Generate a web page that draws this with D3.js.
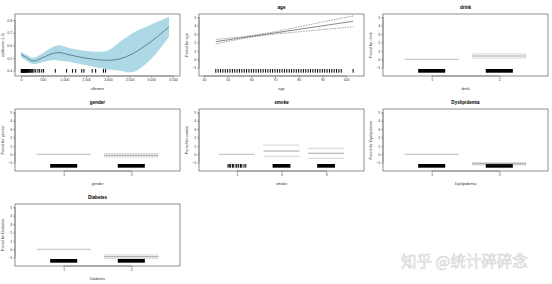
<!DOCTYPE html>
<html>
<head>
<meta charset="utf-8">
<script src="https://cdn.jsdelivr.net/npm/d3@7"></script>
<style>
  body { margin: 0; background: #fff; }
  svg { display: block; font-family: "Liberation Sans", Arial, sans-serif; }
</style>
</head>
<body>
<div id="chart"></div>
<script>
// smooth term (first panel)
const smoothX     = [0, 131, 283, 514, 744, 899, 1129, 1514, 1982, 2281, 2588, 2975, 3410];
const smoothFit   = [0.529, 0.502, 0.476, 0.505, 0.537, 0.542, 0.524, 0.498, 0.482, 0.494, 0.537, 0.624, 0.746];
const smoothUpper = [0.550, 0.524, 0.502, 0.542, 0.589, 0.600, 0.576, 0.555, 0.557, 0.628, 0.699, 0.760, 0.825];
const smoothLower = [0.510, 0.479, 0.453, 0.469, 0.484, 0.479, 0.469, 0.443, 0.411, 0.400, 0.390, 0.484, 0.668];
const smoothRug = [5, 12, 20, 28, 35, 42, 50, 58, 65, 72, 80, 90, 100, 110, 120, 130, 140, 150, 165, 180, 200,
  215, 230, 250, 270, 300, 340, 390, 430, 480, 520, 790, 1050, 1190, 1260, 1400, 1450, 1640, 1720, 1900, 1950];
const smoothXTicks = [0, 500, 1000, 1500, 2000, 2500, 3000, 3500];
const smoothYTicks = [0.4, 0.5, 0.6, 0.7, 0.8];

// age term
const ageX     = [45, 55, 62, 70, 80, 90, 103];
const ageFit   = [2.10, 2.52, 2.81, 3.14, 3.56, 3.98, 4.52];
const ageUpper = [2.36, 2.65, 2.89, 3.28, 3.85, 4.43, 5.17];
const ageLower = [1.84, 2.39, 2.73, 3.00, 3.27, 3.53, 3.87];
const ageRug = [45, 46, 47, 48, 49, 50, 51, 52, 53, 54, 55, 56, 57, 58, 59, 60, 61, 62, 63, 64, 65, 66, 67, 68,
  69, 70, 71, 72, 73, 74, 75, 76, 77, 78, 79, 80, 81, 82, 83, 84, 85, 86, 87, 88, 89, 90, 91, 92, 93, 94, 95,
  96, 97, 98, 103];
const ageXTicks = [40, 50, 60, 70, 80, 90, 100];

// shared partial axis for parametric terms
const partialYTicks = [-1, 0, 1, 2, 3, 4, 5];

// factor terms
const drinkLevels = ['1', '2'];
const drinkFit    = [0, 0.39];
const drinkUpper  = [null, 0.63];
const drinkLower  = [null, 0.15];

const genderLevels = ['1', '2'];
const genderFit    = [0, -0.12];
const genderUpper  = [null, 0.07];
const genderLower  = [null, -0.32];

const smokeLevels = ['1', '2', '3'];
const smokeFit    = [0, 0.39, 0.12];
const smokeUpper  = [null, 1.10, 0.71];
const smokeLower  = [null, -0.24, -0.48];
const smokeRug1   = [0.80, 0.83, 0.86, 0.90, 0.93, 0.98, 1.00, 1.04, 1.08, 1.11, 1.16, 1.20];

const dysLevels = ['1', '2'];
const dysFit    = [0, -1.13];
const dysUpper  = [null, -1.00];
const dysLower  = [null, -1.27];

const diabLevels = ['1', '2'];
const diabFit    = [0, -0.88];
const diabUpper  = [null, -0.68];
const diabLower  = [null, -1.07];

// layout
const W = 552, H = 284;
const PW = 184, PH = 95;
const box = { l: 15, r: 180, t: 14, b: 76 };

const svg = d3.select('#chart').append('svg')
  .attr('width', W).attr('height', H);

function makePanel(col, row, title, xlab, ylab) {
  const g = svg.append('g').attr('transform', `translate(${col * PW},${row * PH})`);
  if (title) {
    g.append('text')
      .attr('x', (box.l + box.r) / 2).attr('y', 8.5)
      .attr('text-anchor', 'middle')
      .attr('font-size', 4.6).attr('font-weight', 'bold')
      .text(title);
  }
  g.append('text')
    .attr('x', (box.l + box.r) / 2).attr('y', 90)
    .attr('text-anchor', 'middle').attr('font-size', 3.8).attr('fill', '#333')
    .text(xlab);
  g.append('text')
    .attr('transform', `translate(4.3,${(box.t + box.b) / 2}) rotate(-90)`)
    .attr('text-anchor', 'middle').attr('font-size', 3.8).attr('fill', '#333')
    .text(ylab);
  return g;
}

function drawBox(g) {
  g.append('rect')
    .attr('x', box.l).attr('y', box.t)
    .attr('width', box.r - box.l).attr('height', box.b - box.t)
    .attr('fill', 'none').attr('stroke', '#222').attr('stroke-width', 0.5);
}

function drawXAxis(g, x, ticks, labels) {
  const axis = d3.axisBottom(x).tickValues(ticks).tickSize(1.8).tickPadding(1.2).tickSizeOuter(0);
  if (labels) axis.tickFormat((d, i) => labels[i]);
  const ax = g.append('g').attr('transform', `translate(0,${box.b})`).call(axis);
  ax.select('.domain')
    .attr('d', `M${x(ticks[0])},0H${x(ticks[ticks.length - 1])}`)
    .attr('stroke', '#333').attr('stroke-width', 0.4);
  ax.selectAll('line').attr('stroke', '#333').attr('stroke-width', 0.4);
  ax.selectAll('text').attr('font-size', 3.5).attr('fill', '#333').attr('font-family', null);
}

function drawYAxis(g, y, ticks, fmt) {
  const ax = g.append('g').attr('transform', `translate(${box.l},0)`)
    .call(d3.axisLeft(y).tickValues(ticks).tickFormat(fmt).tickSize(1.8).tickPadding(1).tickSizeOuter(0));
  ax.select('.domain')
    .attr('d', `M0,${y(ticks[0])}V${y(ticks[ticks.length - 1])}`)
    .attr('stroke', '#333').attr('stroke-width', 0.4);
  ax.selectAll('line').attr('stroke', '#333').attr('stroke-width', 0.4);
  ax.selectAll('text').attr('font-size', 3.5).attr('fill', '#333').attr('font-family', null);
}

function drawRug(g, x, values) {
  g.append('g').selectAll('line')
    .data(values).enter().append('line')
    .attr('x1', d => x(d)).attr('x2', d => x(d))
    .attr('y1', box.b - 7).attr('y2', box.b - 3.3)
    .attr('stroke', '#000').attr('stroke-width', 1);
}

// ---- Panel 1: smooth term ----
(function () {
  const g = makePanel(0, 0, null, 'albumin', 's(albumin,1.5)');
  const x = d3.scaleLinear().domain([-138, 3663]).range([box.l, box.r]);
  const y = d3.scaleLinear().domain([0.358, 0.847]).range([box.b, box.t]);
  const pts = smoothX.map((d, i) => ({ x: d, fit: smoothFit[i], lo: smoothLower[i], hi: smoothUpper[i] }));

  g.append('path').datum(pts)
    .attr('fill', '#add8e6')
    .attr('d', d3.area().curve(d3.curveCatmullRom)
      .x(d => x(d.x)).y0(d => y(d.lo)).y1(d => y(d.hi)));
  g.append('path').datum(pts)
    .attr('fill', 'none').attr('stroke', '#3b5f6b').attr('stroke-width', 0.7)
    .attr('d', d3.line().curve(d3.curveCatmullRom).x(d => x(d.x)).y(d => y(d.fit)));

  drawRug(g, x, smoothRug);
  drawBox(g);
  drawXAxis(g, x, smoothXTicks);
  drawYAxis(g, y, smoothYTicks, d3.format('.1f'));
})();

// shared y scale for parametric terms
const yPartial = d3.scaleLinear().domain([-1.99, 5.39]).range([box.b, box.t]);

// ---- Panel 2: age ----
(function () {
  const g = makePanel(1, 0, 'age', 'age', 'Partial for age');
  const x = d3.scaleLinear().domain([37.9, 107.6]).range([box.l, box.r]);
  const y = yPartial;
  const line = vals => d3.line().x((d, i) => x(ageX[i])).y(d => y(d))(vals);

  g.append('path').attr('d', line(ageFit))
    .attr('fill', 'none').attr('stroke', '#111').attr('stroke-width', 0.5);
  [ageUpper, ageLower].forEach(v => {
    g.append('path').attr('d', line(v))
      .attr('fill', 'none').attr('stroke', '#333').attr('stroke-width', 0.45)
      .attr('stroke-dasharray', '1.6,1');
  });

  drawRug(g, x, ageRug);
  drawBox(g);
  drawXAxis(g, x, ageXTicks);
  drawYAxis(g, y, partialYTicks, d3.format('d'));
})();

// ---- factor panels ----
function factorPanel(col, row, name, levels, fit, upper, lower, sparseRug) {
  const g = makePanel(col, row, name, name, 'Partial for ' + name);
  const n = levels.length;
  const pad = n === 2 ? 0.72 : 0.85;
  const x = d3.scaleLinear().domain([1 - pad, n + pad]).range([box.l, box.r]);
  const y = yPartial;

  levels.forEach((lev, i) => {
    const c = i + 1;
    // rug
    if (sparseRug && sparseRug[i]) {
      drawRug(g, x, sparseRug[i]);
    } else {
      g.append('rect')
        .attr('x', x(c - 0.2)).attr('width', x(c + 0.2) - x(c - 0.2))
        .attr('y', box.b - 7).attr('height', 3.7)
        .attr('fill', '#000');
    }
    // fitted level
    g.append('line')
      .attr('x1', x(c - 0.4)).attr('x2', x(c + 0.4))
      .attr('y1', y(fit[i])).attr('y2', y(fit[i]))
      .attr('stroke', i === 0 ? '#777' : '#444').attr('stroke-width', 0.5);
    // standard error lines
    if (upper[i] !== null) {
      [upper[i], lower[i]].forEach(v => {
        g.append('line')
          .attr('x1', x(c - 0.4)).attr('x2', x(c + 0.4))
          .attr('y1', y(v)).attr('y2', y(v))
          .attr('stroke', '#555').attr('stroke-width', 0.5)
          .attr('stroke-dasharray', '0.8,0.8');
      });
    }
  });

  drawBox(g);
  drawXAxis(g, x, d3.range(1, n + 1), levels);
  drawYAxis(g, y, partialYTicks, d3.format('d'));
}

factorPanel(2, 0, 'drink', drinkLevels, drinkFit, drinkUpper, drinkLower);
factorPanel(0, 1, 'gender', genderLevels, genderFit, genderUpper, genderLower);
factorPanel(1, 1, 'smoke', smokeLevels, smokeFit, smokeUpper, smokeLower, [smokeRug1]);
factorPanel(2, 1, 'Dyslipidemia', dysLevels, dysFit, dysUpper, dysLower);
factorPanel(0, 2, 'Diabetes', diabLevels, diabFit, diabUpper, diabLower);

// watermark
svg.append('text')
  .attr('x', 401).attr('y', 267)
  .attr('font-family', '"Noto Sans CJK SC", sans-serif')
  .attr('font-size', 15.5)
  .attr('fill', '#f6f6f6').attr('stroke', '#cfcfcf').attr('stroke-width', 0.5)
  .text('知乎 @统计碎碎念');
</script>
</body>
</html>
